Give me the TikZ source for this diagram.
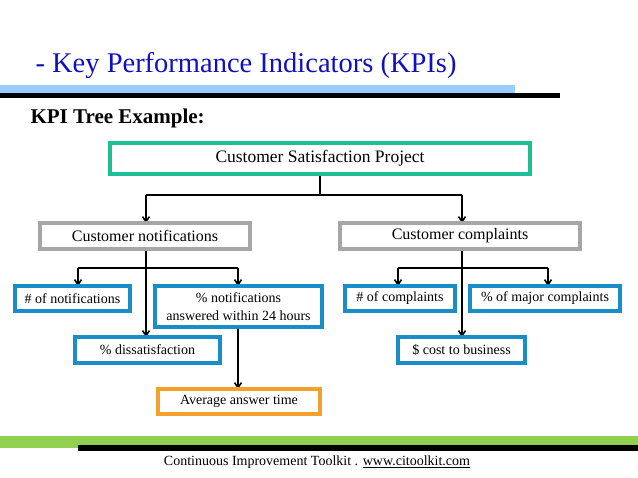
\documentclass[tikz,border=0pt]{standalone}
\usepackage{fontspec}
\setmainfont{Liberation Serif}
\usetikzlibrary{arrows.meta}
\definecolor{teal1}{HTML}{1FBF95}
\definecolor{gray1}{HTML}{A6A6A6}
\definecolor{blue1}{HTML}{1A8CC8}
\definecolor{orange1}{HTML}{F5A02A}
\definecolor{title}{HTML}{1010C0}
\definecolor{lblue}{HTML}{99CCFF}
\definecolor{lgreen}{HTML}{92D050}
\begin{document}
\begin{tikzpicture}[x=1pt,y=-1pt,
  box/.style={draw=#1,line width=3.5pt,fill=white,inner sep=0pt,font=\fontsize{14}{16}\selectfont,align=center},
  arr/.style={-{Straight Barb[length=5pt,width=7pt]},line width=1.6pt},
  ln/.style={line width=1.6pt}]
\useasboundingbox (0,0) rectangle (638,478);
\node[anchor=west,text=title,font=\fontsize{28.5}{30}\selectfont] (t) at (32,66) {- Key Performance Indicators (KPIs)};
\fill[lblue] (0,85) rectangle (515,94);
\fill[black] (0,93) rectangle (560,98);
\node[anchor=west,font=\bfseries\fontsize{21}{23}\selectfont] (s) at (27,118) {KPI Tree Example:};
\coordinate (j0) at (320,195);
\coordinate (jl) at (146,195);
\coordinate (jr) at (462,195);
\coordinate (l1) at (78,268);
\coordinate (l2) at (238,268);
\coordinate (r1) at (398,268);
\coordinate (r2) at (548,268);
\draw[ln] (320,174) -- (j0);
\draw[ln] (jl) -- (jr);
\draw[arr] (jl) -- (146,223);
\draw[arr] (jr) -- (462,223);
\draw[ln] (l1) -- (l2);
\draw[arr] (l1) -- (78,286);
\draw[arr] (l2) -- (238,286);
\draw[arr] (146,249) -- (146,337);
\draw[arr] (238,327) -- (238,389);
\draw[ln] (r1) -- (r2);
\draw[arr] (r1) -- (398,286);
\draw[arr] (r2) -- (548,286);
\draw[arr] (462,249) -- (462,337);
\node[box=teal1,minimum width=420,minimum height=31,font=\fontsize{17.5}{19}\selectfont] (root) at (320,158.5) {Customer Satisfaction Project};
\node[box=gray1,minimum width=210,minimum height=26,font=\fontsize{16}{18}\selectfont] (cn) at (145,236) {Customer notifications};
\node[box=gray1,minimum width=240,minimum height=26,font=\fontsize{16}{18}\selectfont] (cc) at (460,236) {Customer complaints};
\node[box=blue1,minimum width=115,minimum height=25] (n1) at (72.5,298.5) {\# of notifications};
\node[box=blue1,minimum width=167,minimum height=41,font=\fontsize{14}{18}\selectfont] (n2) at (238.5,306.5) {\% notifications\\answered within 24 hours};
\node[box=blue1,minimum width=110,minimum height=25] (c1) at (400,298.5) {\# of complaints};
\node[box=blue1,minimum width=150,minimum height=25] (c2) at (545,298.5) {\% of major complaints};
\node[box=blue1,minimum width=145,minimum height=26] (d) at (147.5,350) {\% dissatisfaction};
\node[box=blue1,minimum width=127,minimum height=26] (cost) at (461.5,350) {\$ cost to business};
\node[box=orange1,minimum width=162,minimum height=25] (avg) at (239,401.5) {Average answer time};
\fill[lgreen] (0,436) rectangle (638,448);
\fill[black] (78,445) rectangle (638,451);
\node[font=\fontsize{14}{16}\selectfont] (f) at (317,462) {Continuous Improvement Toolkit . \underline{www.citoolkit.com}};
\end{tikzpicture}
\end{document}
